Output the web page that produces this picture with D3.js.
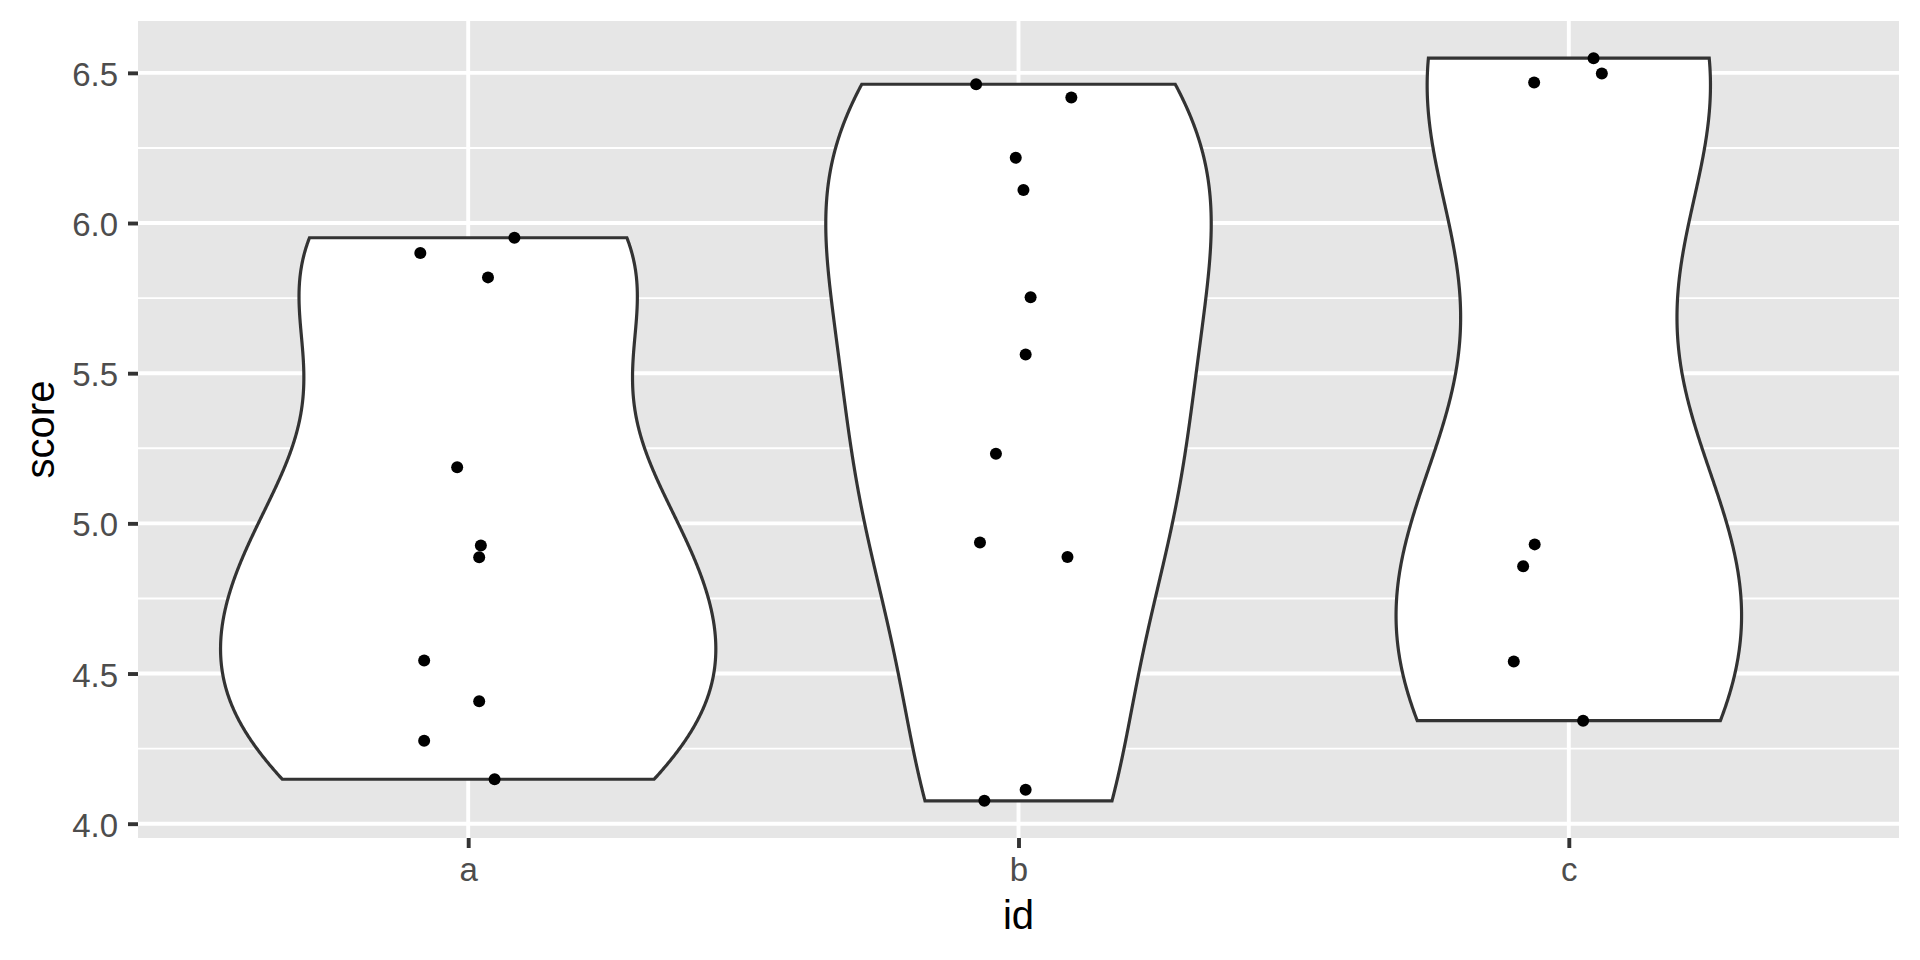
<!DOCTYPE html>
<html>
<head>
<meta charset="utf-8">
<script src="https://cdn.jsdelivr.net/npm/d3@7"></script>
<style>
  html, body { margin: 0; padding: 0; background: #ffffff; }
  svg { display: block; font-family: "Liberation Sans", Arial, Helvetica, sans-serif; }
</style>
</head>
<body>
<svg id="chart" width="1920" height="960"></svg>
<script>
// ---- data ----
const categories = ["a", "b", "c"];
const scoreA = [5.951, 5.900, 5.819, 5.187, 4.926, 4.887, 4.543, 4.408, 4.276, 4.148];
const jitterA = [0.084, -0.087, 0.036, -0.020, 0.023, 0.020, -0.080, 0.020, -0.080, 0.048];
const scoreB = [6.462, 6.418, 6.217, 6.110, 5.753, 5.562, 5.232, 4.936, 4.888, 4.113, 4.076];
const jitterB = [-0.077, 0.096, -0.005, 0.009, 0.022, 0.013, -0.041, -0.070, 0.089, 0.013, -0.062];
const scoreC = [6.549, 6.498, 6.468, 4.930, 4.857, 4.540, 4.343];
const jitterC = [0.045, 0.060, -0.063, -0.062, -0.083, -0.100, 0.026];
const yTicks = [4.0, 4.5, 5.0, 5.5, 6.0, 6.5];
const yMinorTicks = [4.25, 4.75, 5.25, 5.75, 6.25];
const xTitle = "id";
const yTitle = "score";

const groups = [
  { id: categories[0], scores: scoreA, jitter: jitterA },
  { id: categories[1], scores: scoreB, jitter: jitterB },
  { id: categories[2], scores: scoreC, jitter: jitterC }
];

// ---- layout ----
const panel = { x0: 138, x1: 1899, y0: 21, y1: 838 };
const svg = d3.select("#chart");

// ---- scales ----
const allScores = scoreA.concat(scoreB, scoreC);
const [lo, hi] = d3.extent(allScores);
const pad = (hi - lo) * 0.05;
const y = d3.scaleLinear().domain([lo - pad, hi + pad]).range([panel.y1, panel.y0]);
const x = d3.scalePoint().domain(categories).range([panel.x0, panel.x1]).padding(0.6);
const step = x.step();

// ---- kernel density (gaussian, nrd0 bandwidth, trimmed) ----
function bwNrd0(v) {
  const s = v.slice().sort(d3.ascending);
  const sd = d3.deviation(s);
  const iqr = d3.quantile(s, 0.75) - d3.quantile(s, 0.25);
  let m = Math.min(sd, iqr / 1.34);
  if (!(m > 0)) m = sd || Math.abs(s[0]) || 1;
  return 0.9 * m * Math.pow(s.length, -0.2);
}
function kde(v) {
  const bw = bwNrd0(v);
  const [a, b] = d3.extent(v);
  const n = 512;
  const out = [];
  for (let i = 0; i < n; i++) {
    const t = a + (b - a) * i / (n - 1);
    let s = 0;
    for (const xi of v) {
      const z = (t - xi) / bw;
      s += Math.exp(-0.5 * z * z);
    }
    out.push({ v: t, d: s / (v.length * bw * Math.sqrt(2 * Math.PI)) });
  }
  return out;
}
groups.forEach(g => { g.dens = kde(g.scores); });
const maxD = d3.max(groups, g => d3.max(g.dens, p => p.d));

// ---- panel background & grid ----
svg.append("rect")
  .attr("x", panel.x0).attr("y", panel.y0)
  .attr("width", panel.x1 - panel.x0).attr("height", panel.y1 - panel.y0)
  .attr("fill", "#E6E6E6");

const grid = svg.append("g");
grid.selectAll("line.minor").data(yMinorTicks).join("line")
  .attr("x1", panel.x0).attr("x2", panel.x1)
  .attr("y1", d => y(d)).attr("y2", d => y(d))
  .attr("stroke", "#ffffff").attr("stroke-width", 1.95);
grid.selectAll("line.majory").data(yTicks).join("line")
  .attr("x1", panel.x0).attr("x2", panel.x1)
  .attr("y1", d => y(d)).attr("y2", d => y(d))
  .attr("stroke", "#ffffff").attr("stroke-width", 3.9);
grid.selectAll("line.majorx").data(categories).join("line")
  .attr("x1", d => x(d)).attr("x2", d => x(d))
  .attr("y1", panel.y0).attr("y2", panel.y1)
  .attr("stroke", "#ffffff").attr("stroke-width", 3.9);

// ---- violins ----
const halfW = step * 0.45;
svg.append("g").selectAll("path").data(groups).join("path")
  .attr("d", g => d3.area()
      .y(p => y(p.v))
      .x0(p => x(g.id) - halfW * p.d / maxD)
      .x1(p => x(g.id) + halfW * p.d / maxD)(g.dens))
  .attr("fill", "#ffffff")
  .attr("stroke", "#333333")
  .attr("stroke-width", 3.2)
  .attr("stroke-linejoin", "miter");

// ---- jittered points ----
const pts = [];
groups.forEach(g => g.scores.forEach((s, i) => pts.push({ id: g.id, s, j: g.jitter[i] })));
svg.append("g").selectAll("circle").data(pts).join("circle")
  .attr("cx", d => x(d.id) + d.j * step)
  .attr("cy", d => y(d.s))
  .attr("r", 6)
  .attr("fill", "#000000");

// ---- axes ----
const yAxis = svg.append("g")
  .attr("transform", `translate(${panel.x0},0)`)
  .call(d3.axisLeft(y).tickValues(yTicks).tickSize(10).tickPadding(10).tickFormat(d3.format(".1f")));
const xAxis = svg.append("g")
  .attr("transform", `translate(0,${panel.y1})`)
  .call(d3.axisBottom(x).tickSize(10).tickPadding(10));
[yAxis, xAxis].forEach(ax => {
  ax.select(".domain").remove();
  ax.selectAll(".tick line").attr("stroke", "#333333").attr("stroke-width", 3.9);
  ax.selectAll(".tick text")
    .attr("fill", "#4D4D4D")
    .style("font-size", "33px")
    .style("font-family", "'Liberation Sans', Arial, Helvetica, sans-serif");
});
yAxis.selectAll(".tick text").attr("dy", "0.38em");

// ---- titles ----
svg.append("text")
  .attr("x", (panel.x0 + panel.x1) / 2)
  .attr("y", 929)
  .attr("text-anchor", "middle")
  .attr("fill", "#000000")
  .style("font-size", "40px")
  .text(xTitle);
svg.append("text")
  .attr("transform", `translate(54,${(panel.y0 + panel.y1) / 2}) rotate(-90)`)
  .attr("text-anchor", "middle")
  .attr("fill", "#000000")
  .style("font-size", "40px")
  .text(yTitle);
</script>
</body>
</html>
